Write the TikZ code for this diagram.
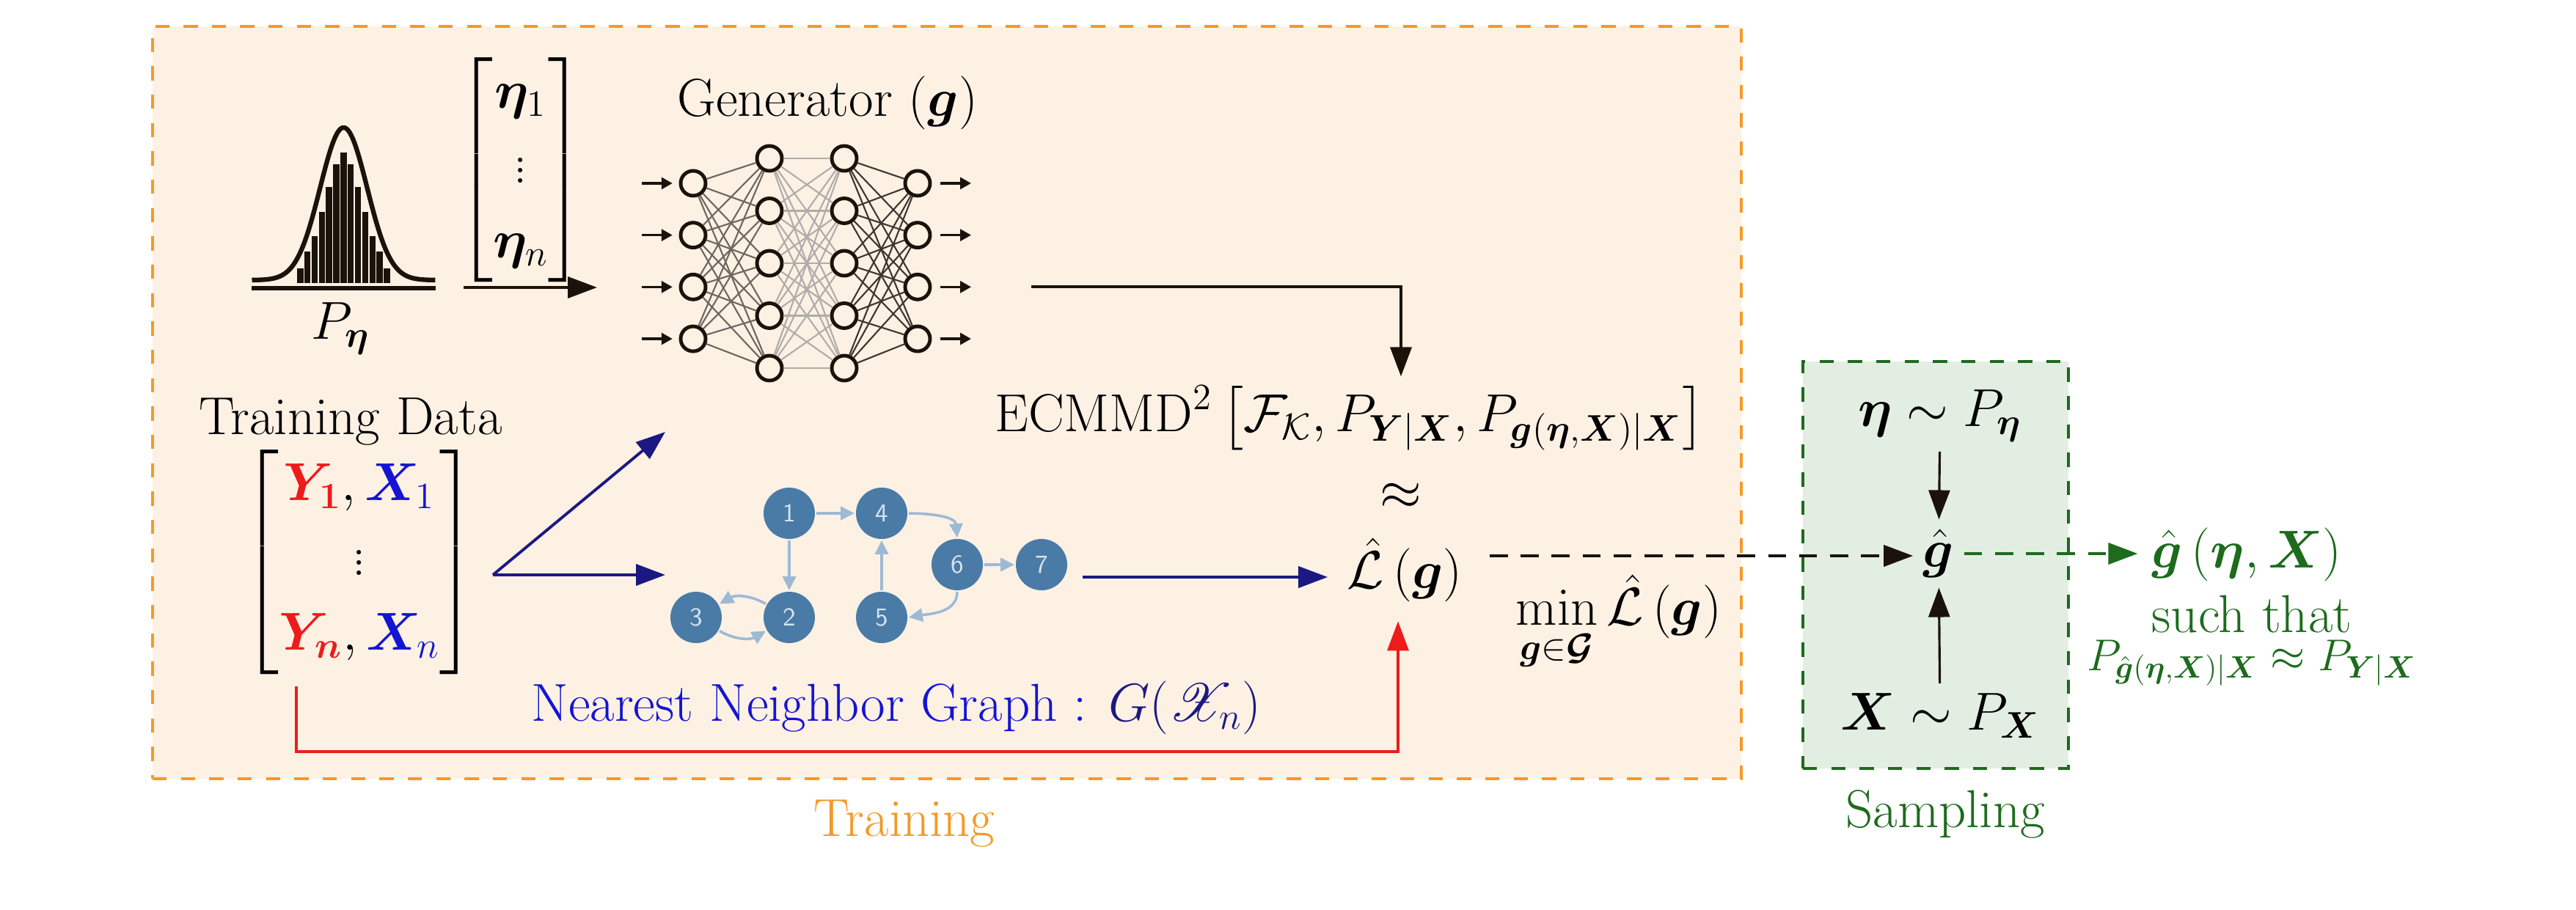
\documentclass[tikz,border=0pt]{standalone}
\usepackage{amsmath,amssymb,bm,mathrsfs}
\usetikzlibrary{arrows.meta, positioning, calc, backgrounds}
\definecolor{corange}{HTML}{F39A27}
\definecolor{cpeach}{HTML}{FDF1E4}
\definecolor{cgreen}{HTML}{1D6B1D}
\definecolor{cmint}{HTML}{E3EEE2}
\definecolor{cnavy}{HTML}{1C1882}
\definecolor{cblue}{HTML}{1414D4}
\definecolor{cred}{HTML}{EE1B1B}
\definecolor{cink}{HTML}{1B130B}
\definecolor{csteel}{HTML}{4A7BA6}
\definecolor{cedge}{HTML}{9DB9D4}
\definecolor{cdigit}{HTML}{D6E4F0}
\tikzset{
  every picture/.style={line width=1.1pt},
  arrow/.style={-{Triangle[length=4mm, width=2.9mm]}, draw=cink, line width=1.1pt},
  panel/.style={draw=#1, dash pattern=on 5.5pt off 5.5pt, line width=1.4pt, inner sep=0pt},
  caption/.style={font=\huge, text=#1},
}

\begin{document}
\begin{tikzpicture}[
    every node/.append style={font=\huge},
    neuron/.style={circle, draw=cink, fill=cpeach, line width=1.4pt, minimum size=0.34cm, inner sep=0pt},
    wire/.style={line width=0.6pt, draw=#1},
    tick/.style={-{Triangle[length=1.5mm, width=1.6mm]}, draw=cink, line width=0.9pt},
    vertex/.style={circle, fill=csteel, text=cdigit, font=\sffamily\normalsize, minimum size=0.7cm, inner sep=0pt},
    gedge/.style={-{Triangle[length=1.9mm, width=1.8mm]}, draw=cedge, line width=1pt},
    navyarrow/.style={arrow, draw=cnavy},
    redarrow/.style={arrow, draw=cred, line width=0.9pt},
    dasharrow/.style={arrow, dash pattern=on 7pt off 5pt},
  ]
  \useasboundingbox (0,0) rectangle (35.12,12.40);

  % noise distribution
  \draw[line width=1.6pt, cink] (3.43,8.47) -- (5.94,8.47);
  \foreach \h [count=\i from 0] in {0.20,0.43,0.64,0.97,1.31,1.62,1.78,1.62,1.31,0.97,0.64,0.43,0.20}
    \fill[cink] ({4.05+0.0985*\i},8.54) rectangle ++(0.085,\h);
  \draw[line width=1.8pt, cink, domain=-1.25:1.25, samples=80, smooth]
    plot ({4.685+\x},{8.58+2.08*exp(-(\x*\x)/(2*0.32*0.32))});
  \node (peta) at (4.64,7.92) {$P_{\bm\eta}$};
  \node (etavec) at (7.10,10.08) {$\begin{bmatrix}\bm\eta_1\\[4pt]\vdots\\[4pt]\bm\eta_n\end{bmatrix}$};
  \coordinate (noisel) at (6.32,8.48);
  \coordinate (noiser) at (8.14,8.48);
  \draw[arrow] (noisel) -- (noiser);

  % generator network
  \node (gentitle) at (11.28,11.0) {Generator $(\bm g)$};
  \foreach \i in {1,...,4} {
    \node[neuron] (a\i) at (9.45,{8.84+(2.5-\i)*0.707}) {};
    \node[neuron] (d\i) at (12.51,{8.84+(2.5-\i)*0.707}) {};
    \coordinate (in\i) at (8.75,{8.84+(2.5-\i)*0.707});
    \coordinate (out\i) at (13.24,{8.84+(2.5-\i)*0.707});
  }
  \foreach \i in {1,...,5} {
    \node[neuron] (b\i) at (10.49,{8.81+(3-\i)*0.715}) {};
    \node[neuron] (c\i) at (11.51,{8.81+(3-\i)*0.715}) {};
  }
  \foreach \i in {1,...,4} \foreach \j in {1,...,5} {
    \draw[wire=cink!65] (a\i) -- (b\j);
    \draw[wire=cink!85] (c\j) -- (d\i);
  }
  \foreach \i in {1,...,5} \foreach \j in {1,...,5}
    \draw[wire=cink!35] (b\i) -- (c\j);
  \foreach \i in {1,...,4} {
    \draw[tick, shorten >=2.5pt] (in\i) -- (a\i);
    \draw[tick, shorten <=3.4pt] (d\i) -- (out\i);
  }

  % loss
  \node[inner sep=3pt] (ecmmd) at (18.40,6.70) {$\mathrm{ECMMD}^2\left[\mathcal F_{\mathcal K}, P_{\bm Y|\bm X}, P_{\bm g(\bm\eta,\bm X)|\bm X}\right]$};
  \node (approx) at (19.10,5.63) {$\approx$};
  \node (loss) at (19.15,4.63) {$\hat{\mathcal L}\,(\bm g)$};
  \node (minloss) at (22.07,3.90) {$\min\limits_{\bm g\in\bm{\mathcal G}}\hat{\mathcal L}\,(\bm g)$};
  \coordinate (genout) at (14.06,8.49);
  \draw[arrow] (genout) -| (ecmmd.north -| approx);

  % training data
  \node (datatitle) at (4.78,6.65) {Training Data};
  \node (data) at (4.90,4.73) {$\begin{bmatrix}{\color{cred}\bm{Y_1}}, {\color{cblue}\bm X_1}\\[4pt]\vdots\\[4pt]{\color{cred}\bm{Y_n}}, {\color{cblue}\bm X_n}\end{bmatrix}$};
  \coordinate (fork) at (6.72,4.56);
  \coordinate (togen) at (9.07,6.51);
  \coordinate (tograph) at (9.07,4.56);
  \draw[navyarrow] (fork) -- (togen);
  \draw[navyarrow] (fork) -- (tograph);

  % nearest neighbor graph
  \node[vertex] (n1) at (10.76,5.40) {1};
  \node[vertex] (n2) at (10.76,3.98) {2};
  \node[vertex] (n3) at (9.49,3.98)  {3};
  \node[vertex] (n4) at (12.02,5.40) {4};
  \node[vertex] (n5) at (12.02,3.98) {5};
  \node[vertex] (n6) at (13.05,4.70) {6};
  \node[vertex] (n7) at (14.20,4.70) {7};
  \draw[gedge] (n1) -- (n4);
  \draw[gedge] (n1) -- (n2);
  \draw[gedge] (n5) -- (n4);
  \draw[gedge] (n6) -- (n7);
  \draw[gedge] (n4.east) to[out=0, in=95] (n6.north);
  \draw[gedge] (n6.south) to[out=-90, in=10] (n5.east);
  \draw[gedge] (n2) to[bend right=30] (n3);
  \draw[gedge] (n3) to[bend right=30] (n2);
  \node[text=cblue] (nnlabel) at (12.22,2.75) {Nearest Neighbor Graph : {\color{cnavy}$G(\mathscr X_n)$}};
  \coordinate (graphout) at (14.76,4.53);
  \draw[navyarrow, shorten >=0.13cm] (graphout) -- (graphout -| loss.west);

  \coordinate (ystart) at (4.04,3.04);
  \coordinate (rcorner) at (19.06,2.15);
  \draw[redarrow, shorten >=0.13cm] (ystart) |- (rcorner) -- (rcorner |- loss.south);

  % sampling
  \node (eta) at (26.45,6.73) {$\bm\eta\sim P_{\bm\eta}$};
  \node (ghat) at (26.43,4.85) {$\hat{\bm g}$};
  \node (xdist) at (26.45,2.64) {$\bm X\sim P_{\bm X}$};
  \draw[arrow, line width=0.9pt] (eta) -- (ghat);
  \draw[arrow, line width=0.9pt] (xdist) -- (ghat);
  \coordinate (lossout) at (20.31,4.82);
  \draw[dasharrow] (lossout) -- (lossout -| ghat.west);

  \node[text=cgreen, inner sep=2pt] (gout) at (30.63,4.84) {$\hat{\bm g}\,(\bm\eta,\bm X)$};
  \node[text=cgreen, inner sep=1pt] (such) at (30.70,4.03) {such that};
  \node[text=cgreen, font=\LARGE, inner sep=1pt] (cond) at (30.70,3.36) {$P_{\hat{\bm g}(\bm\eta,\bm X)|\bm X}\approx P_{\bm Y|\bm X}$};
  \draw[dasharrow, draw=cgreen, shorten >=0.1cm] (ghat.east) -- (ghat.east -| gout.west);

  \begin{scope}[on background layer]
    \node[panel=corange, fill=cpeach, minimum width=21.66cm, minimum height=10.26cm] (train) at (12.91,6.91) {};
    \node[panel=cgreen, fill=cmint, minimum width=3.62cm, minimum height=5.55cm] (samp) at (26.39,4.695) {};
  \end{scope}
  \node[caption=corange] (trainlabel) at (12.33,1.17) {Training};
  \node[caption=cgreen] (samplabel) at (26.52,1.30) {Sampling};
\end{tikzpicture}
\end{document}
